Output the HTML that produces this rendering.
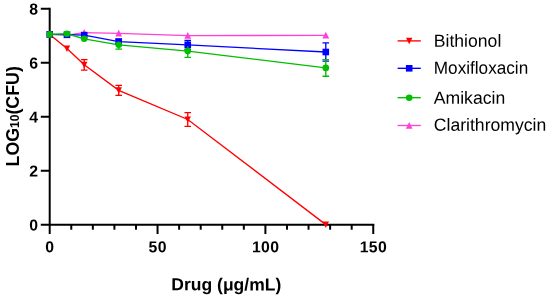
<!DOCTYPE html>
<html><head><meta charset="utf-8"><title>Chart</title>
<style>
html,body{margin:0;padding:0;background:#fff;}
body{width:550px;height:298px;overflow:hidden;}
svg{display:block;}
text{font-family:"Liberation Sans",Arial,sans-serif;}
.b{font-weight:bold;}
</style></head><body>
<svg width="550" height="298" viewBox="0 0 550 298">
<rect width="550" height="298" fill="#fff"/>

<g stroke="#000" stroke-width="2" fill="none" stroke-linecap="butt">
<line x1="49.7" y1="7.8" x2="49.7" y2="234"/>
<line x1="40.8" y1="224.75" x2="374.3" y2="224.75"/>
<line x1="40.8" y1="170.75" x2="49.7" y2="170.75"/>
<line x1="40.8" y1="116.75" x2="49.7" y2="116.75"/>
<line x1="40.8" y1="62.75" x2="49.7" y2="62.75"/>
<line x1="40.8" y1="8.75" x2="49.7" y2="8.75"/>
<line x1="157.55" y1="224.75" x2="157.55" y2="234"/>
<line x1="265.40" y1="224.75" x2="265.40" y2="234"/>
<line x1="373.25" y1="224.75" x2="373.25" y2="234"/>
<line x1="71.27" y1="224.75" x2="71.27" y2="229.7"/>
<line x1="92.84" y1="224.75" x2="92.84" y2="229.7"/>
<line x1="114.41" y1="224.75" x2="114.41" y2="229.7"/>
<line x1="135.98" y1="224.75" x2="135.98" y2="229.7"/>
<line x1="179.12" y1="224.75" x2="179.12" y2="229.7"/>
<line x1="200.69" y1="224.75" x2="200.69" y2="229.7"/>
<line x1="222.26" y1="224.75" x2="222.26" y2="229.7"/>
<line x1="243.83" y1="224.75" x2="243.83" y2="229.7"/>
<line x1="286.97" y1="224.75" x2="286.97" y2="229.7"/>
<line x1="308.54" y1="224.75" x2="308.54" y2="229.7"/>
<line x1="330.11" y1="224.75" x2="330.11" y2="229.7"/>
<line x1="351.68" y1="224.75" x2="351.68" y2="229.7"/>
</g>
<g class="b" font-size="15.8" fill="#000">
<text x="38.1" y="230.60" transform="rotate(0.03 38.1 230.60)" text-anchor="end">0</text>
<text x="38.1" y="176.60" transform="rotate(0.03 38.1 176.60)" text-anchor="end">2</text>
<text x="38.1" y="122.60" transform="rotate(0.03 38.1 122.60)" text-anchor="end">4</text>
<text x="38.1" y="68.60" transform="rotate(0.03 38.1 68.60)" text-anchor="end">6</text>
<text x="38.1" y="14.60" transform="rotate(0.03 38.1 14.60)" text-anchor="end">8</text>
<text x="49.90" y="252.3" transform="rotate(0.03 49.90 252.3)" text-anchor="middle" letter-spacing="0.35">0</text>
<text x="157.75" y="252.3" transform="rotate(0.03 157.75 252.3)" text-anchor="middle" letter-spacing="0.35">50</text>
<text x="265.60" y="252.3" transform="rotate(0.03 265.60 252.3)" text-anchor="middle" letter-spacing="0.35">100</text>
<text x="373.45" y="252.3" transform="rotate(0.03 373.45 252.3)" text-anchor="middle" letter-spacing="0.35">150</text>
</g>
<text class="b" font-size="17.5" x="226.3" y="290.4" transform="rotate(0.03 226.3 290.4)" text-anchor="middle">Drug (μg/mL)</text>
<text class="b" font-size="17.8" transform="translate(19.2 116.3) rotate(-90)" text-anchor="middle">LOG<tspan font-size="12">10</tspan>(CFU)</text>
<g stroke="#FF42D4" stroke-width="1.35" fill="none">
<polyline points="49.70,34.40 66.96,35.10 84.21,32.60 118.72,33.30 187.75,35.60 325.80,35.40"/>
</g>
<path d="M49.70 30.80L53.10 37.60L46.30 37.60Z" fill="#FF42D4"/>
<path d="M66.96 31.50L70.36 38.30L63.56 38.30Z" fill="#FF42D4"/>
<path d="M84.21 29.00L87.61 35.80L80.81 35.80Z" fill="#FF42D4"/>
<path d="M118.72 29.70L122.12 36.50L115.32 36.50Z" fill="#FF42D4"/>
<path d="M187.75 32.00L191.15 38.80L184.35 38.80Z" fill="#FF42D4"/>
<path d="M325.80 31.80L329.20 38.60L322.40 38.60Z" fill="#FF42D4"/>
<g stroke="#FF0000" stroke-width="1.35" fill="none">
<path d="M84.21 59.60V70.10M80.91 59.60H87.51M80.91 70.10H87.51"/>
<path d="M118.72 85.40V95.40M115.42 85.40H122.02M115.42 95.40H122.02"/>
<path d="M187.75 112.60V126.40M184.45 112.60H191.05M184.45 126.40H191.05"/>
<polyline points="49.70,34.40 66.96,48.60 84.21,64.85 118.72,90.40 187.75,119.50 325.80,224.60"/>
</g>
<path d="M49.70 37.70L52.90 31.30L46.50 31.30Z" fill="#FF0000"/>
<path d="M66.96 51.90L70.16 45.50L63.76 45.50Z" fill="#FF0000"/>
<path d="M84.21 68.15L87.41 61.75L81.01 61.75Z" fill="#FF0000"/>
<path d="M118.72 93.70L121.92 87.30L115.52 87.30Z" fill="#FF0000"/>
<path d="M187.75 122.80L190.95 116.40L184.55 116.40Z" fill="#FF0000"/>
<path d="M325.80 227.90L329.00 221.50L322.60 221.50Z" fill="#FF0000"/>
<g stroke="#0000FF" stroke-width="1.35" fill="none">
<path d="M118.72 39.20V44.00M115.42 39.20H122.02M115.42 44.00H122.02"/>
<path d="M187.75 40.50V49.30M184.45 40.50H191.05M184.45 49.30H191.05"/>
<path d="M325.80 42.90V61.10M322.50 42.90H329.10M322.50 61.10H329.10"/>
<polyline points="49.70,34.40 66.96,34.70 84.21,35.10 118.72,41.60 187.75,44.90 325.80,52.00"/>
</g>
<g stroke="#00BE00" stroke-width="1.35" fill="none">
<path d="M118.72 40.50V49.10M115.42 40.50H122.02M115.42 49.10H122.02"/>
<path d="M187.75 44.80V57.40M184.45 44.80H191.05M184.45 57.40H191.05"/>
<path d="M325.80 59.60V76.20M322.50 59.60H329.10M322.50 76.20H329.10"/>
<polyline points="49.70,34.40 66.96,33.80 84.21,38.80 118.72,44.80 187.75,51.10 325.80,67.90"/>
</g>
<rect x="46.40" y="31.10" width="6.6" height="6.6" fill="#0000FF"/>
<rect x="63.66" y="31.40" width="6.6" height="6.6" fill="#0000FF"/>
<rect x="80.91" y="31.80" width="6.6" height="6.6" fill="#0000FF"/>
<rect x="115.42" y="38.30" width="6.6" height="6.6" fill="#0000FF"/>
<rect x="184.45" y="41.60" width="6.6" height="6.6" fill="#0000FF"/>
<rect x="322.50" y="48.70" width="6.6" height="6.6" fill="#0000FF"/>
<path d="M187.75 46.2V49" stroke="#00BE00" stroke-width="1.35"/>
<circle cx="49.70" cy="34.40" r="3.3" fill="#00BE00"/>
<circle cx="66.96" cy="33.80" r="3.3" fill="#00BE00"/>
<circle cx="84.21" cy="38.80" r="3.3" fill="#00BE00"/>
<circle cx="118.72" cy="44.80" r="3.3" fill="#00BE00"/>
<circle cx="187.75" cy="51.10" r="3.3" fill="#00BE00"/>
<circle cx="325.80" cy="67.90" r="3.3" fill="#00BE00"/>
<line x1="397.6" y1="40.9" x2="420.8" y2="40.9" stroke="#FF0000" stroke-width="1.35"/>
<path d="M409.20 44.20L412.40 37.80L406.00 37.80Z" fill="#FF0000"/>
<text x="433.8" y="46.8" transform="rotate(0.03 433.8 46.8)" font-size="17.6" fill="#000">Bithionol</text>
<line x1="397.6" y1="68.3" x2="420.8" y2="68.3" stroke="#0000FF" stroke-width="1.35"/>
<rect x="405.90" y="65.00" width="6.6" height="6.6" fill="#0000FF"/>
<text x="433.8" y="73.7" transform="rotate(0.03 433.8 73.7)" font-size="17.6" fill="#000" textLength="94.4" lengthAdjust="spacingAndGlyphs">Moxifloxacin</text>
<line x1="397.6" y1="97.7" x2="420.8" y2="97.7" stroke="#00BE00" stroke-width="1.35"/>
<circle cx="409.20" cy="97.70" r="3.3" fill="#00BE00"/>
<text x="433.8" y="103.8" transform="rotate(0.03 433.8 103.8)" font-size="17.6" fill="#000">Amikacin</text>
<line x1="397.6" y1="125.5" x2="420.8" y2="125.5" stroke="#FF42D4" stroke-width="1.35"/>
<path d="M409.20 121.90L412.60 128.70L405.80 128.70Z" fill="#FF42D4"/>
<text x="433.8" y="130.8" transform="rotate(0.03 433.8 130.8)" font-size="17.6" fill="#000">Clarithromycin</text>
</svg></body></html>
